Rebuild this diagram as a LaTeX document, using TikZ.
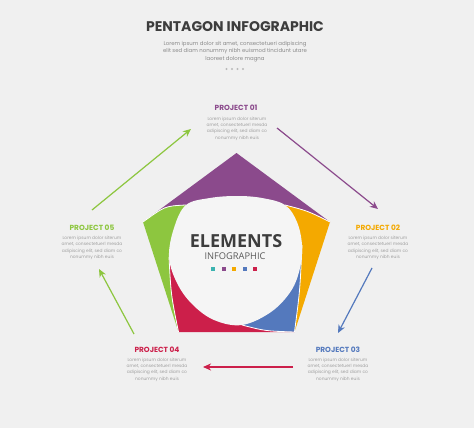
\documentclass[tikz,border=0pt]{standalone}
\usepackage{fontspec}
\setmainfont{Poppins}
\newfontfamily\opensans{Open Sans}
\usetikzlibrary{arrows.meta}
\definecolor{bg}{HTML}{F0F0F0}
\definecolor{inner}{HTML}{F5F5F5}
\definecolor{cpurple}{HTML}{8B4A8C}
\definecolor{corange}{HTML}{F4A900}
\definecolor{cblue}{HTML}{5479BD}
\definecolor{cred}{HTML}{CC1F4A}
\definecolor{cgreen}{HTML}{8DC63F}
\definecolor{cteal}{HTML}{3BB3B0}
\definecolor{titlec}{HTML}{3D3D3D}
\definecolor{subc}{HTML}{8A8A8A}
\definecolor{bodyc}{HTML}{A0A0A0}
\tikzset{
  projtitle/.style={font=\fontsize{7.4}{8}\selectfont\bfseries, inner sep=0pt},
  projbody/.style={font=\fontsize{4.4}{6.4}\selectfont, text=bodyc, align=center, inner sep=0pt},
  flowarrow/.style={line width=1.2pt, -{Stealth[length=8pt,width=7pt,inset=2.5pt]}},
  cutline/.style={white, line width=0.8pt},
  sq/.style={minimum size=4pt, inner sep=0pt}
}
\newcommand{\lorembody}{Lorem ipsum dolor siterum\\amet, consectetuerl mesda\\adipiscing elit, sed diam co\\nonummy nibh euis}
\begin{document}
\begin{tikzpicture}[x=1pt,y=-1pt]
\fill[bg] (0,0) rectangle (474,428);
\useasboundingbox (0,0) rectangle (474,428);

% header
\node[font=\fontsize{14}{16}\selectfont\bfseries, text=titlec, inner sep=0pt] (title) at (235,27) {PENTAGON INFOGRAPHIC};
\node[font=\fontsize{5.4}{7.5}\selectfont, text=subc, align=center, inner sep=0pt] (sub) at (235,51.5)
  {Lorem ipsum dolor sit amet, consectetueri adipiscing\\elit sed diam nonummy nibh euismod tincidunt utare\\laoreet dolore magna};
\foreach \i/\x in {1/226.5,2/232,3/237.5,4/243}
  \fill[subc!60] (\x,69) circle (1.1);

% pentagon
\coordinate (A) at (236.5,153);
\coordinate (TR) at (330,222);
\coordinate (BR) at (294.5,332);
\coordinate (BL) at (178.5,332);
\coordinate (TL) at (143,222);
\coordinate (C) at (237,262);
\coordinate (P1) at (186,205);
\coordinate (P2) at (285,205);
\coordinate (P3) at (302,245);
\coordinate (P4) at (242,325);
\coordinate (P5) at (169,257);

\fill[cpurple] (TL) -- (A) -- (TR) .. controls (308,211) .. (P2) -- (C) -- (P1) .. controls (165,206) .. (TL) -- cycle;
\fill[corange] (TR) -- (BR) .. controls (300,290) .. (P3) -- (C) -- (P2) .. controls (308,211) .. (TR) -- cycle;
\fill[cblue] (BR) .. controls (300,290) .. (P3) -- (C) -- (P4) .. controls (265,331) .. (BR) -- cycle;
\fill[cred] (BR) -- (BL) .. controls (171,295) .. (P5) -- (C) -- (P4) .. controls (265,331) .. (BR) -- cycle;
\fill[cgreen] (BL) -- (TL) .. controls (165,206) .. (P1) -- (C) -- (P5) .. controls (171,295) .. (BL) -- cycle;

\draw[cutline] (TL) .. controls (165,206) .. (P1);
\draw[cutline] (TR) .. controls (308,211) .. (P2);
\draw[cutline] (BR) .. controls (300,290) .. (P3);
\draw[cutline] (BR) .. controls (265,331) .. (P4);
\draw[cutline] (BL) .. controls (171,295) .. (P5);

\fill[inner] plot[smooth cycle, tension=0.6] coordinates {
 (186,205) (210,198) (237,196) (262,198) (285,205) (297,222) (302,245)
 (300,268) (291,291) (271,312) (242,325) (214,320) (192,304) (177,283)
 (169,257) (174,228)};

% centre text
\node[font=\opensans\fontsize{18}{20}\selectfont\bfseries, text=titlec, inner sep=0pt] (elem) at (236,241) {ELEMENTS};
\node[font=\opensans\fontsize{9.3}{10}\selectfont, text=titlec!85, inner sep=0pt] (info) at (235,256.5) {INFOGRAPHIC};
\node[sq, fill=cteal] (s1) at (213,269) {};
\node[sq, fill=cpurple] (s2) at (223.5,269) {};
\node[sq, fill=corange] (s3) at (234,269) {};
\node[sq, fill=cblue] (s4) at (244.5,269) {};
\node[sq, fill=cred] (s5) at (255,269) {};

% projects
\node[projtitle, text=cpurple] (p1) at (236,108) {PROJECT 01};
\node[projbody] (b1) at (237,128.5) {\lorembody};
\node[projtitle, text=corange] (p2) at (378,228) {PROJECT 02};
\node[projbody] (b2) at (378,248) {\lorembody};
\node[projtitle, text=cblue] (p3) at (338,350) {PROJECT 03};
\node[projbody] (b3) at (338,369.5) {\lorembody};
\node[projtitle, text=cred] (p4) at (157,350) {PROJECT 04};
\node[projbody] (b4) at (157,369.5) {\lorembody};
\node[projtitle, text=cgreen] (p5) at (92,228) {PROJECT 05};
\node[projbody] (b5) at (92,248) {\lorembody};

% arrows
\coordinate (a1s) at (92,210); \coordinate (a1e) at (191,129);
\coordinate (a2s) at (277,128); \coordinate (a2e) at (378,209);
\coordinate (a3s) at (372,268); \coordinate (a3e) at (338,333);
\coordinate (a4s) at (293,367); \coordinate (a4e) at (203,367);
\coordinate (a5s) at (134,334); \coordinate (a5e) at (99,269);
\draw[flowarrow, cgreen] (a1s) -- (a1e);
\draw[flowarrow, cpurple] (a2s) -- (a2e);
\draw[flowarrow, cblue] (a3s) -- (a3e);
\draw[flowarrow, cred] (a4s) -- (a4e);
\draw[flowarrow, cgreen] (a5s) -- (a5e);
\end{tikzpicture}
\end{document}
